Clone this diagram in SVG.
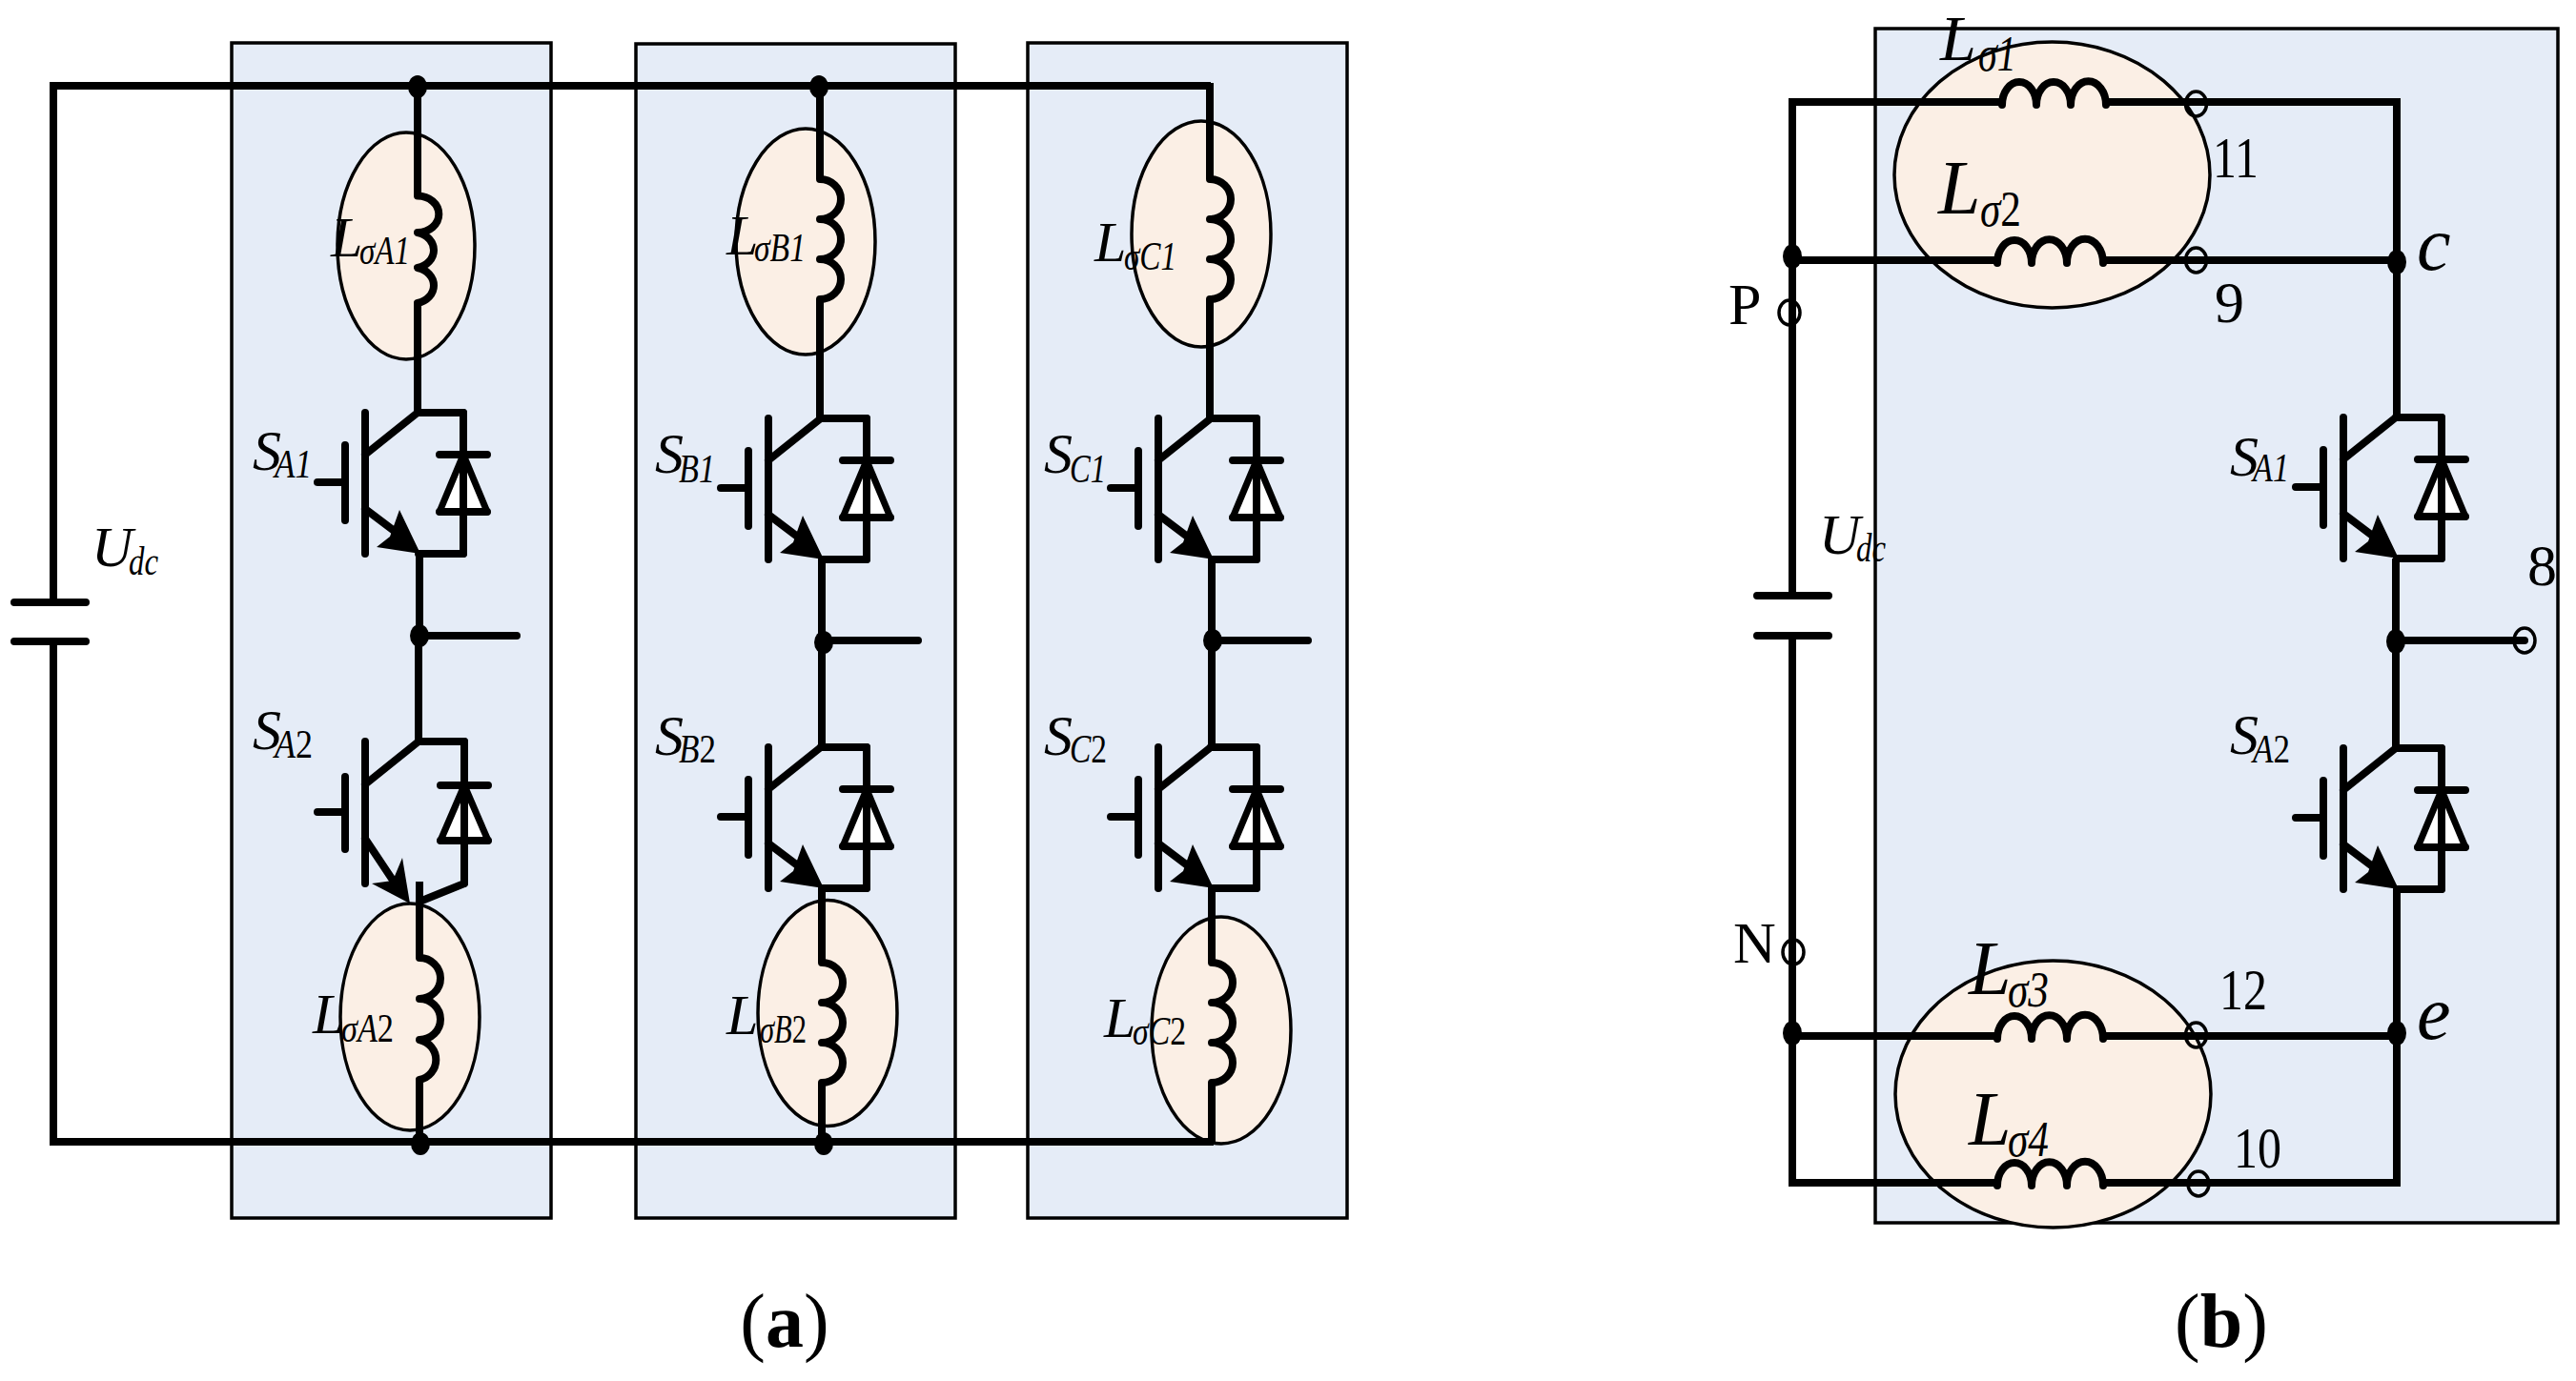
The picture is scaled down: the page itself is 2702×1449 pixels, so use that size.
<svg xmlns="http://www.w3.org/2000/svg" width="2702" height="1449" viewBox="0 0 2702 1449">
<style>
.panel{fill:#E5ECF7;stroke:#000;stroke-width:3.5}
.halo{fill:#FBEFE5;stroke:#000;stroke-width:3.5}
.w{fill:none;stroke:#000;stroke-width:8}
.r{fill:none;stroke:#000;stroke-width:8;stroke-linecap:round;stroke-linejoin:round}
.thin{fill:none;stroke:#000;stroke-width:3.5}
.dot{fill:#000}
.tri{fill:#fff;stroke:#000;stroke-width:7;stroke-linejoin:round}
text{font-family:"Liberation Serif","Times New Roman",serif;fill:#000}
.m{font-size:60px;font-style:italic}
.s{font-size:42px;font-style:italic}
.up{font-style:normal}
.ml{font-size:80px;font-style:italic}
.sl{font-size:52px;font-style:italic}
.n{font-size:62px}
.cap{font-size:80px;text-anchor:middle}
.b{font-weight:bold}
</style>
<defs>
<g id="igbt">
<path class="r" d="M-55 0V148M-76 34V113M-105 73H-76M0 0L-55 44M-55 101L-10 135"/>
<path class="r" d="M0 0H48V148H1"/>
<polygon class="dot" points="3,148 -19,102 -29,130 -43,141"/>
<polygon class="tri" points="48,44 23,104 73,104"/>
<path class="r" d="M23 44H73M48 0V148M23 104H73"/>
</g>
</defs>

<g id="panels">
<rect id="panel-a" class="panel" x="243" y="45" width="335" height="1233"/>
<rect id="panel-b" class="panel" x="667" y="46" width="335" height="1232"/>
<rect id="panel-c" class="panel" x="1078" y="45" width="335" height="1233"/>
<rect id="panel-d" class="panel" x="1967" y="30" width="716" height="1253"/>
</g>

<g id="halos">
<ellipse id="halo-A1" class="halo" cx="426" cy="258" rx="72" ry="119"/>
<ellipse id="halo-A2" class="halo" cx="430" cy="1067" rx="73" ry="119"/>
<ellipse id="halo-B1" class="halo" cx="845" cy="253.500" rx="73" ry="118.500"/>
<ellipse id="halo-B2" class="halo" cx="868" cy="1063" rx="73" ry="118.500"/>
<ellipse id="halo-C1" class="halo" cx="1260" cy="245.500" rx="73" ry="118.500"/>
<ellipse id="halo-C2" class="halo" cx="1281" cy="1081" rx="73" ry="119"/>
<ellipse id="halo-top" class="halo" cx="2152.500" cy="183.500" rx="165.500" ry="139.500"/>
<ellipse id="halo-bottom" class="halo" cx="2153.500" cy="1148" rx="165.500" ry="140"/>
</g>

<g id="connectors">
<path class="w" d="M56 632V90H1270"/>
<path class="w" d="M56 673V1198H1273"/>
<path class="w" d="M1269 87V188M1269 314V439"/>
<path class="w" d="M1271 587V784M1271 932V1010M1271 1136V1201"/>
<path class="w" d="M438 91V205.500M438 318V433M440 581V667M439 667V778"/>
<path class="w" d="M440 925V1005M440 1133V1198"/>
<path class="w" d="M860 91V188M860 314V439M862 587V784M862 932V1010M862 1136V1200"/>
<path class="r" d="M440 667H542M864 672H963M1272 672H1372"/>
<path class="w" d="M1880 625V107H2100M2209 107H2514V438"/>
<path class="w" d="M1880 273H2095M2206 273H2514"/>
<path class="w" d="M1880 667V1241H2095M2206 1241H2514V933"/>
<path class="w" d="M1880 1087H2095M2206 1087H2514"/>
<path class="w" d="M2513 586V785"/>
<path class="r" d="M2513 672H2648"/>
</g>

<g id="capacitor-a"><path class="r" d="M15 632H90M15 673H90"/></g>
<g id="capacitor-b"><path class="r" d="M1843 625H1918M1843 667H1918"/></g>

<g id="inductors">
<path class="r" d="M438 205.500A22 19 0 0 1 438 244A22 19 0 0 1 438 281A22 19 0 0 1 438 318"/>
<path class="r" d="M440 1005A22 21.500 0 0 1 440 1048A22 21.500 0 0 1 440 1091A22 21.500 0 0 1 440 1133"/>
<path class="r" d="M860 188A22 21 0 0 1 860 230A22 21 0 0 1 860 272A22 21 0 0 1 860 314"/>
<path class="r" d="M862 1010A22 21 0 0 1 862 1052A22 21 0 0 1 862 1094A22 21 0 0 1 862 1136"/>
<path class="r" d="M1269 188A22 21 0 0 1 1269 230A22 21 0 0 1 1269 272A22 21 0 0 1 1269 314"/>
<path class="r" d="M1271 1010A22 21 0 0 1 1271 1052A22 21 0 0 1 1271 1094A22 21 0 0 1 1271 1136"/>
<path class="r" d="M2100 110A18 24 0 0 1 2136 110A18 24 0 0 1 2172 110A18 24 0 0 1 2209 110"/>
<path class="r" d="M2095 276A18 24 0 0 1 2131 276A18 24 0 0 1 2168 276A18 24 0 0 1 2206 276"/>
<path class="r" d="M2095 1090A18 24 0 0 1 2131 1090A18 24 0 0 1 2168 1090A18 24 0 0 1 2206 1090"/>
<path class="r" d="M2095 1244A18 24 0 0 1 2131 1244A18 24 0 0 1 2168 1244A18 24 0 0 1 2206 1244"/>
</g>

<g id="switch-A1"><use href="#igbt" x="438" y="433"/></g>
<g id="switch-A2">
<path class="r" d="M383 778V927M362 815V891M333 852H362M439 778L383 823M383 880L415 928"/>
<path class="r" d="M439 778H487V927L440 946"/>
<polygon class="dot" points="430,948 422,900 412,924 390,927"/>
<polygon class="tri" points="487,824 462,882 512,882"/>
<path class="r" d="M462 824H512M487 778V927M462 882H512"/>
</g>
<g id="switch-B1"><use href="#igbt" x="861" y="439"/></g>
<g id="switch-B2"><use href="#igbt" x="861" y="784"/></g>
<g id="switch-C1"><use href="#igbt" x="1270" y="439"/></g>
<g id="switch-C2"><use href="#igbt" x="1270" y="784"/></g>
<g id="switch-bA1"><use href="#igbt" x="2513" y="438"/></g>
<g id="switch-bA2"><use href="#igbt" x="2513" y="785"/></g>

<g id="junctions">
<ellipse class="dot" cx="438" cy="91" rx="10" ry="12"/>
<ellipse class="dot" cx="859" cy="91" rx="10" ry="12"/>
<ellipse class="dot" cx="440" cy="667" rx="10" ry="12"/>
<ellipse class="dot" cx="864" cy="674" rx="10" ry="12"/>
<ellipse class="dot" cx="1272" cy="672" rx="10" ry="12"/>
<ellipse class="dot" cx="441" cy="1200" rx="10" ry="12"/>
<ellipse class="dot" cx="864" cy="1200" rx="10" ry="12"/>
<ellipse class="dot" cx="1880" cy="269" rx="10" ry="13"/>
<ellipse class="dot" cx="2514" cy="275" rx="10" ry="13"/>
<ellipse class="dot" cx="1880" cy="1084" rx="10" ry="13"/>
<ellipse class="dot" cx="2514" cy="1084" rx="10" ry="13"/>
<ellipse class="dot" cx="2513" cy="673" rx="10" ry="13"/>
</g>

<g id="terminals">
<ellipse class="thin" cx="2303.500" cy="109" rx="11" ry="13"/>
<ellipse class="thin" cx="2303.500" cy="273" rx="11" ry="13"/>
<ellipse class="thin" cx="2303.500" cy="1086" rx="11" ry="13"/>
<ellipse class="thin" cx="2306" cy="1242" rx="11" ry="13"/>
<ellipse class="thin" cx="1877" cy="328" rx="11" ry="13"/>
<ellipse class="thin" cx="1881" cy="999" rx="11" ry="13"/>
<ellipse class="thin" cx="2648" cy="672" rx="11" ry="13"/>
</g>

<g id="labels">
<text class="m" x="96" y="594">U</text><text class="s" x="135" y="603" textLength="31" lengthAdjust="spacingAndGlyphs">dc</text>
<text class="m" x="265" y="493">S</text><text class="s" x="288" y="501" textLength="39" lengthAdjust="spacingAndGlyphs">A1</text>
<text class="m" x="265" y="786">S</text><text class="s" x="288" y="795" textLength="40" lengthAdjust="spacingAndGlyphs">A<tspan class="up">2</tspan></text>
<text class="m" x="347" y="269">L</text><text class="s" x="377" y="277" textLength="53" lengthAdjust="spacingAndGlyphs">σA1</text>
<text class="m" x="328" y="1084">L</text><text class="s" x="358" y="1093" textLength="55" lengthAdjust="spacingAndGlyphs">σA<tspan class="up">2</tspan></text>
<text class="m" x="687" y="496">S</text><text class="s" x="712" y="506" textLength="38" lengthAdjust="spacingAndGlyphs">B1</text>
<text class="m" x="687" y="792">S</text><text class="s" x="712" y="800" textLength="39" lengthAdjust="spacingAndGlyphs">B<tspan class="up">2</tspan></text>
<text class="m" x="762" y="267">L</text><text class="s" x="791" y="274" textLength="54" lengthAdjust="spacingAndGlyphs">σB1</text>
<text class="m" x="762" y="1085">L</text><text class="s" x="797" y="1094" textLength="49" lengthAdjust="spacingAndGlyphs">σB<tspan class="up">2</tspan></text>
<text class="m" x="1095" y="496">S</text><text class="s" x="1122" y="506" textLength="38" lengthAdjust="spacingAndGlyphs">C1</text>
<text class="m" x="1095" y="792">S</text><text class="s" x="1122" y="800" textLength="39" lengthAdjust="spacingAndGlyphs">C<tspan class="up">2</tspan></text>
<text class="m" x="1148" y="274">L</text><text class="s" x="1179" y="283" textLength="55" lengthAdjust="spacingAndGlyphs">σC1</text>
<text class="m" x="1158" y="1088">L</text><text class="s" x="1188" y="1096" textLength="56" lengthAdjust="spacingAndGlyphs">σC<tspan class="up">2</tspan></text>

<text class="m" style="font-size:68px" x="2035" y="63">L</text><text class="sl" x="2075" y="74" textLength="40" lengthAdjust="spacingAndGlyphs">σ1</text>
<text class="ml" x="2033" y="224">L</text><text class="sl" x="2077" y="237" textLength="43" lengthAdjust="spacingAndGlyphs">σ<tspan class="up">2</tspan></text>
<text class="ml" x="2065" y="1043">L</text><text class="sl" x="2106" y="1056" textLength="43" lengthAdjust="spacingAndGlyphs">σ3</text>
<text class="ml" x="2065" y="1201">L</text><text class="sl" x="2106" y="1213" textLength="43" lengthAdjust="spacingAndGlyphs">σ4</text>
<text class="n" x="2321" y="186" textLength="48" lengthAdjust="spacingAndGlyphs">11</text>
<text class="n" x="2323" y="338">9</text>
<text class="n" x="2328" y="1059" textLength="50" lengthAdjust="spacingAndGlyphs">12</text>
<text class="n" x="2343" y="1225" textLength="50" lengthAdjust="spacingAndGlyphs">10</text>
<text class="n" x="2651" y="614">8</text>
<text class="n" x="1813" y="340">P</text>
<text class="n" x="1818" y="1010">N</text>
<text class="m" x="1908" y="581">U</text><text class="s" x="1947" y="589" textLength="31" lengthAdjust="spacingAndGlyphs">dc</text>
<text class="m" x="2339" y="499">S</text><text class="s" x="2363" y="505" textLength="38" lengthAdjust="spacingAndGlyphs">A1</text>
<text class="m" x="2339" y="791">S</text><text class="s" x="2363" y="800" textLength="39" lengthAdjust="spacingAndGlyphs">A<tspan class="up">2</tspan></text>
<text class="ml" x="2535" y="283">c</text>
<text class="ml" x="2535" y="1090">e</text>
<text class="cap" x="823" y="1413">(<tspan class="b">a</tspan>)</text>
<text class="cap" x="2330" y="1413">(<tspan class="b">b</tspan>)</text>
</g>
</svg>
